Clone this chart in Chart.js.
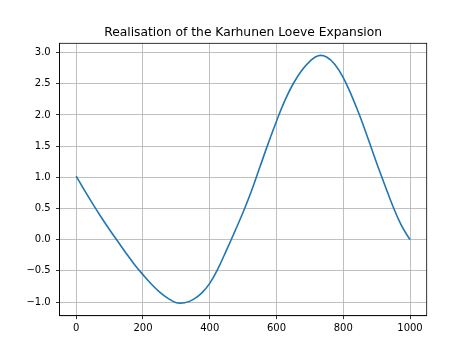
<!DOCTYPE html>
<html>
<head>
<meta charset="utf-8">
<script src="https://cdn.jsdelivr.net/npm/chart.js@4/dist/chart.umd.min.js"></script>
<style>
  html, body { margin: 0; padding: 0; background: #fff; }
  #wrap { width: 474px; height: 355px; }
</style>
</head>
<body>
<div id="wrap"><canvas id="c" width="474" height="355"></canvas></div>
<script>
const chartTitle = "Realisation of the Karhunen Loeve Expansion";
const xValues = [0, 25, 50, 75, 100, 125, 150, 175, 200, 225, 250, 275, 300, 325, 350, 375, 400, 425, 450, 475, 500, 525, 550, 575, 600, 625, 650, 675, 700, 725, 750, 775, 800, 825, 850, 875, 900, 925, 950, 975, 1000];
const yValues = [1.02, 0.79, 0.57, 0.36, 0.16, -0.03, -0.22, -0.40, -0.56, -0.71, -0.84, -0.94, -1.01, -1.01, -0.96, -0.86, -0.70, -0.46, -0.17, 0.13, 0.44, 0.78, 1.16, 1.54, 1.90, 2.23, 2.50, 2.71, 2.86, 2.95, 2.93, 2.81, 2.60, 2.31, 1.98, 1.61, 1.23, 0.87, 0.52, 0.22, 0.00];
const xTicks = [0, 200, 400, 600, 800, 1000];
const yTicks = [-1.0, -0.5, 0.0, 0.5, 1.0, 1.5, 2.0, 2.5, 3.0];

const points = xValues.map((x, i) => ({ x: x, y: yValues[i] }));
const FONT = "'DejaVu Sans', sans-serif";

const framePlugin = {
  id: 'frame',
  afterDraw(chart) {
    const { ctx, chartArea: a } = chart;
    ctx.save();
    ctx.strokeStyle = '#000';
    ctx.lineWidth = 0.8;
    ctx.strokeRect(a.left, a.top, a.right - a.left, a.bottom - a.top);
    ctx.fillStyle = '#000';
    ctx.font = "12.3px " + FONT;
    ctx.textAlign = 'center';
    ctx.textBaseline = 'alphabetic';
    ctx.fillText(chartTitle, (a.left + a.right) / 2, a.top - 7);
    ctx.restore();
  }
};

new Chart(document.getElementById('c'), {
  type: 'line',
  data: {
    datasets: [{
      data: points,
      borderColor: '#1f77b4',
      borderWidth: 1.6,
      pointRadius: 0,
      fill: false,
      tension: 0.4
    }]
  },
  options: {
    responsive: false,
    animation: false,
    devicePixelRatio: 1,
    layout: { padding: { left: 0, top: 43.3, right: 47.3, bottom: 0 } },
    plugins: { legend: { display: false }, tooltip: { enabled: false }, title: { display: false } },
    scales: {
      x: {
        type: 'linear',
        min: -50, max: 1050,
        afterBuildTicks: (s) => { s.ticks = xTicks.map(v => ({ value: v })); },
        afterFit: (s) => { s.height = 39.3; },
        grid: { color: '#b0b0b0', lineWidth: 0.8, tickColor: '#000', tickWidth: 0.8, tickLength: 3.5 },
        border: { display: true, color: '#000', width: 0.8 },
        ticks: { color: '#000', font: { family: FONT, size: 10 }, padding: 3, maxRotation: 0, autoSkip: false,
                 callback: (v) => String(v) }
      },
      y: {
        type: 'linear',
        min: -1.2185, max: 3.1485,
        afterBuildTicks: (s) => { s.ticks = yTicks.map(v => ({ value: v })); },
        afterFit: (s) => { s.width = 59.5; },
        grid: { color: '#b0b0b0', lineWidth: 0.8, tickColor: '#000', tickWidth: 0.8, tickLength: 3.5 },
        border: { display: true, color: '#000', width: 0.8 },
        ticks: { color: '#000', font: { family: FONT, size: 10 }, padding: 5.3, autoSkip: false,
                 callback: (v) => Number(v).toFixed(1).replace('-', '\u2212') }
      }
    }
  },
  plugins: [framePlugin]
});
</script>
</body>
</html>
